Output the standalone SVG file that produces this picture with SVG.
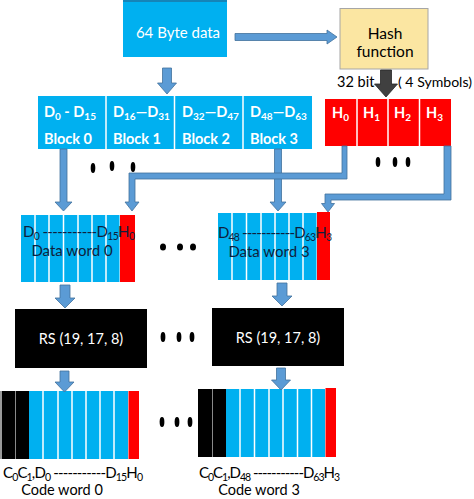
<svg xmlns="http://www.w3.org/2000/svg" width="474" height="499" viewBox="0 0 474 499">
<style>
text{font-family:Lato,"Open Sans","Liberation Sans",sans-serif}
.w{fill:#ffffff}
.b{font-weight:bold}
.dk{fill:#0f1f3d}
.cy{fill:#00b0f0}
.rd{fill:#ff0000}
.bk{fill:#000000}
.sep{stroke:#ffffff;stroke-width:1.5}
.arr{fill:#5b9bd5;stroke:#41719c;stroke-width:0.8}
.dot{fill:#000000}
</style>
<rect width="474" height="499" fill="#ffffff"/>

<g id="data64">
<rect x="123" y="0" width="104" height="57" class="cy"/>
<rect x="123" y="0" width="104" height="2" fill="#1584b8"/>
<text x="178" y="38" class="w" font-size="15" text-anchor="middle">64 Byte data</text>
</g>

<g id="hash">
<rect x="340" y="8.5" width="88" height="60.5" fill="#fbe6a2" stroke="#a6a6a6" stroke-width="1"/>
<text x="385" y="39" font-size="15.5" text-anchor="middle" fill="#000">Hash</text>
<text x="385" y="57" font-size="15.5" text-anchor="middle" fill="#000">function</text>
</g>

<g id="labels32">
<text x="337" y="87" font-size="14.5" fill="#000">32 bit</text>
<text x="398" y="87" font-size="14" fill="#000" textLength="74" lengthAdjust="spacingAndGlyphs">( 4 Symbols)</text>
</g>

<g id="blocks">
<rect x="38" y="96" width="274" height="53" class="cy"/>
<line x1="106" y1="96" x2="106" y2="149" class="sep"/>
<line x1="174.5" y1="96" x2="174.5" y2="149" class="sep"/>
<line x1="243" y1="96" x2="243" y2="149" class="sep"/>
<g class="w b" font-size="14.5">
<text x="44" y="117">D<tspan font-size="10" dy="3">0</tspan><tspan dy="-3"> - D</tspan><tspan font-size="10" dy="3">15</tspan></text>
<text x="113" y="117">D<tspan font-size="10" dy="3">16</tspan><tspan dy="-3">—D</tspan><tspan font-size="10" dy="3">31</tspan></text>
<text x="182" y="117">D<tspan font-size="10" dy="3">32</tspan><tspan dy="-3">—D</tspan><tspan font-size="10" dy="3">47</tspan></text>
<text x="250" y="117">D<tspan font-size="10" dy="3">48</tspan><tspan dy="-3">—D</tspan><tspan font-size="10" dy="3">63</tspan></text>
<text x="44" y="144">Block 0</text>
<text x="113" y="144">Block 1</text>
<text x="182" y="144">Block 2</text>
<text x="250" y="144">Block 3</text>
</g>
</g>

<g id="hsym">
<rect x="325" y="99" width="126" height="47" class="rd"/>
<line x1="357" y1="99" x2="357" y2="146" class="sep"/>
<line x1="388" y1="99" x2="388" y2="146" class="sep"/>
<line x1="419.5" y1="99" x2="419.5" y2="146" class="sep"/>
<g class="w b" font-size="14.5">
<text x="332" y="118">H<tspan font-size="10" dy="3">0</tspan></text>
<text x="363" y="118">H<tspan font-size="10" dy="3">1</tspan></text>
<text x="394" y="118">H<tspan font-size="10" dy="3">2</tspan></text>
<text x="426" y="118">H<tspan font-size="10" dy="3">3</tspan></text>
</g>
</g>

<g id="dataword0">
<rect x="21" y="215" width="98.5" height="67" class="cy"/>
<rect x="120" y="215" width="15" height="67" class="rd"/>
<g class="sep">
<line x1="35" y1="215" x2="35" y2="282"/><line x1="49" y1="215" x2="49" y2="282"/><line x1="63.5" y1="215" x2="63.5" y2="282"/><line x1="78" y1="215" x2="78" y2="282"/><line x1="92" y1="215" x2="92" y2="282"/><line x1="106" y1="215" x2="106" y2="282"/>
</g>
<text x="23" y="237" class="dk" font-size="15" textLength="112" lengthAdjust="spacing">D<tspan font-size="10.5" dy="3">0</tspan><tspan dy="-3"> -----------D</tspan><tspan font-size="10.5" dy="3">15</tspan><tspan dy="-3">H</tspan><tspan font-size="10.5" dy="3">0</tspan></text>
<text x="72" y="256" class="dk" font-size="15" text-anchor="middle">Data word 0</text>
</g>

<g id="dataword3">
<rect x="218" y="213" width="98.5" height="67" class="cy"/>
<rect x="317" y="212" width="13" height="68" class="rd"/>
<g class="sep">
<line x1="232" y1="213" x2="232" y2="280"/><line x1="246.5" y1="213" x2="246.5" y2="280"/><line x1="261" y1="213" x2="261" y2="280"/><line x1="275" y1="213" x2="275" y2="280"/><line x1="289" y1="213" x2="289" y2="280"/><line x1="303" y1="213" x2="303" y2="280"/>
</g>
<text x="218" y="238" class="dk" font-size="15" textLength="114" lengthAdjust="spacing">D<tspan font-size="10.5" dy="3">48</tspan><tspan dy="-3"> -----------D</tspan><tspan font-size="10.5" dy="3">63</tspan><tspan dy="-3">H</tspan><tspan font-size="10.5" dy="3">3</tspan></text>
<text x="269" y="257" class="dk" font-size="15" text-anchor="middle">Data word 3</text>
</g>

<g id="rs0">
<rect x="15" y="309" width="132" height="59" class="bk"/>
<text x="81" y="344" class="w" font-size="14.5" text-anchor="middle">RS (19, 17, 8)</text>
</g>
<g id="rs3">
<rect x="212" y="308" width="132" height="58" class="bk"/>
<text x="278" y="343" class="w" font-size="14.5" text-anchor="middle">RS (19, 17, 8)</text>
</g>

<g id="codeword0">
<rect x="0" y="391" width="2" height="68" fill="#9a9a9a"/>
<rect x="2" y="391" width="13" height="68" class="bk"/>
<rect x="16" y="391" width="13" height="68" class="bk"/>
<rect x="29" y="391" width="99" height="68" class="cy"/>
<rect x="128.5" y="391" width="10.5" height="68" class="rd"/>
<g class="sep">
<line x1="43" y1="391" x2="43" y2="459"/><line x1="58" y1="391" x2="58" y2="459"/><line x1="72" y1="391" x2="72" y2="459"/><line x1="86" y1="391" x2="86" y2="459"/><line x1="100" y1="391" x2="100" y2="459"/><line x1="114" y1="391" x2="114" y2="459"/>
</g>
<line x1="15.5" y1="391" x2="15.5" y2="459" stroke="#8a8a8a" stroke-width="1"/>
<text x="3" y="478" fill="#000" font-size="15" textLength="140" lengthAdjust="spacing">C<tspan font-size="10.5" dy="2.5">0</tspan><tspan dy="-2.5">C</tspan><tspan font-size="10.5" dy="2.5">1</tspan><tspan dy="-2.5">,D</tspan><tspan font-size="10.5" dy="2.5">0</tspan><tspan dy="-2.5">  -----------D</tspan><tspan font-size="10.5" dy="2.5">15</tspan><tspan dy="-2.5">H</tspan><tspan font-size="10.5" dy="2.5">0</tspan></text>
<text x="62" y="495" fill="#000" font-size="14.5" text-anchor="middle">Code word 0</text>
</g>

<g id="codeword3">
<rect x="198" y="389" width="14" height="68" class="bk"/>
<rect x="213" y="389" width="13" height="68" class="bk"/>
<rect x="226" y="389" width="99" height="68" class="cy"/>
<rect x="325.5" y="388" width="10.5" height="69" class="rd"/>
<g class="sep">
<line x1="240" y1="389" x2="240" y2="457"/><line x1="254.5" y1="389" x2="254.5" y2="457"/><line x1="269" y1="389" x2="269" y2="457"/><line x1="283" y1="389" x2="283" y2="457"/><line x1="297.5" y1="389" x2="297.5" y2="457"/><line x1="311.5" y1="389" x2="311.5" y2="457"/>
</g>
<line x1="212.5" y1="389" x2="212.5" y2="457" stroke="#8a8a8a" stroke-width="1"/>
<text x="199" y="478" fill="#000" font-size="15" textLength="141" lengthAdjust="spacing">C<tspan font-size="10.5" dy="2.5">0</tspan><tspan dy="-2.5">C</tspan><tspan font-size="10.5" dy="2.5">1</tspan><tspan dy="-2.5">,D</tspan><tspan font-size="10.5" dy="2.5">48</tspan><tspan dy="-2.5"> -----------D</tspan><tspan font-size="10.5" dy="2.5">63</tspan><tspan dy="-2.5">H</tspan><tspan font-size="10.5" dy="2.5">3</tspan></text>
<text x="259" y="495" fill="#000" font-size="14.5" text-anchor="middle">Code word 3</text>
</g>

<g id="dots">
<ellipse cx="93" cy="168" rx="2.3" ry="5" class="dot"/>
<ellipse cx="112" cy="166" rx="2.3" ry="5" class="dot"/>
<ellipse cx="133" cy="167" rx="2.3" ry="5" class="dot"/>
<ellipse cx="378" cy="162" rx="2.3" ry="5" class="dot"/>
<ellipse cx="395" cy="162" rx="2.3" ry="5" class="dot"/>
<ellipse cx="408" cy="162" rx="2.3" ry="5" class="dot"/>
<ellipse cx="163" cy="247" rx="3" ry="3.5" class="dot"/>
<ellipse cx="180" cy="247" rx="3" ry="3.5" class="dot"/>
<ellipse cx="193" cy="247" rx="3" ry="3.5" class="dot"/>
<ellipse cx="163" cy="337" rx="2.4" ry="5" class="dot"/>
<ellipse cx="179" cy="337" rx="2.4" ry="5" class="dot"/>
<ellipse cx="192" cy="337" rx="2.4" ry="5" class="dot"/>
<ellipse cx="162" cy="422" rx="2.4" ry="5" class="dot"/>
<ellipse cx="177" cy="422" rx="2.4" ry="5" class="dot"/>
<ellipse cx="190" cy="422" rx="2.4" ry="5" class="dot"/>
</g>

<g id="connectors">
<path class="arr" d="M235,33.5 H327 V30 L337,37 L327,44 V40.5 H235 Z"/>
<path class="arr" d="M162.5,68 H171.5 V83 H176.5 L167,94 L157.5,83 H162.5 Z"/>
<path fill="#404040" stroke="#262626" stroke-width="0.8" d="M380.5,70 H391.5 V84 H397.5 L386,97 L374.5,84 H380.5 Z"/>
<path class="arr" d="M60,149 H67 V202 H72 L63.5,211 L55,202 H60 Z"/>
<path class="arr" d="M274.5,149 H281.5 V202 H286 L278,211 L270,202 H274.5 Z"/>
<path class="arr" d="M342,146 H347 V179 H135 V202 H139 L132,211 L125,202 H129 V173 H342 Z"/>
<path class="arr" d="M444,146 H451 V200 H331 V203.5 H334.5 L328,212 L321.5,203.5 H325 V194 H444 Z"/>
<path class="arr" d="M60,285 H70 V298 H75 L65,308 L55,298 H60 Z"/>
<path class="arr" d="M277,283 H287 V296 H292 L282,306 L272,296 H277 Z"/>
<path class="arr" d="M60,371 H69 V382 H74 L64.5,392 L55,382 H60 Z"/>
<path class="arr" d="M276.5,368 H285.5 V380 H290.5 L281,390 L271.5,380 H276.5 Z"/>
</g>
</svg>
